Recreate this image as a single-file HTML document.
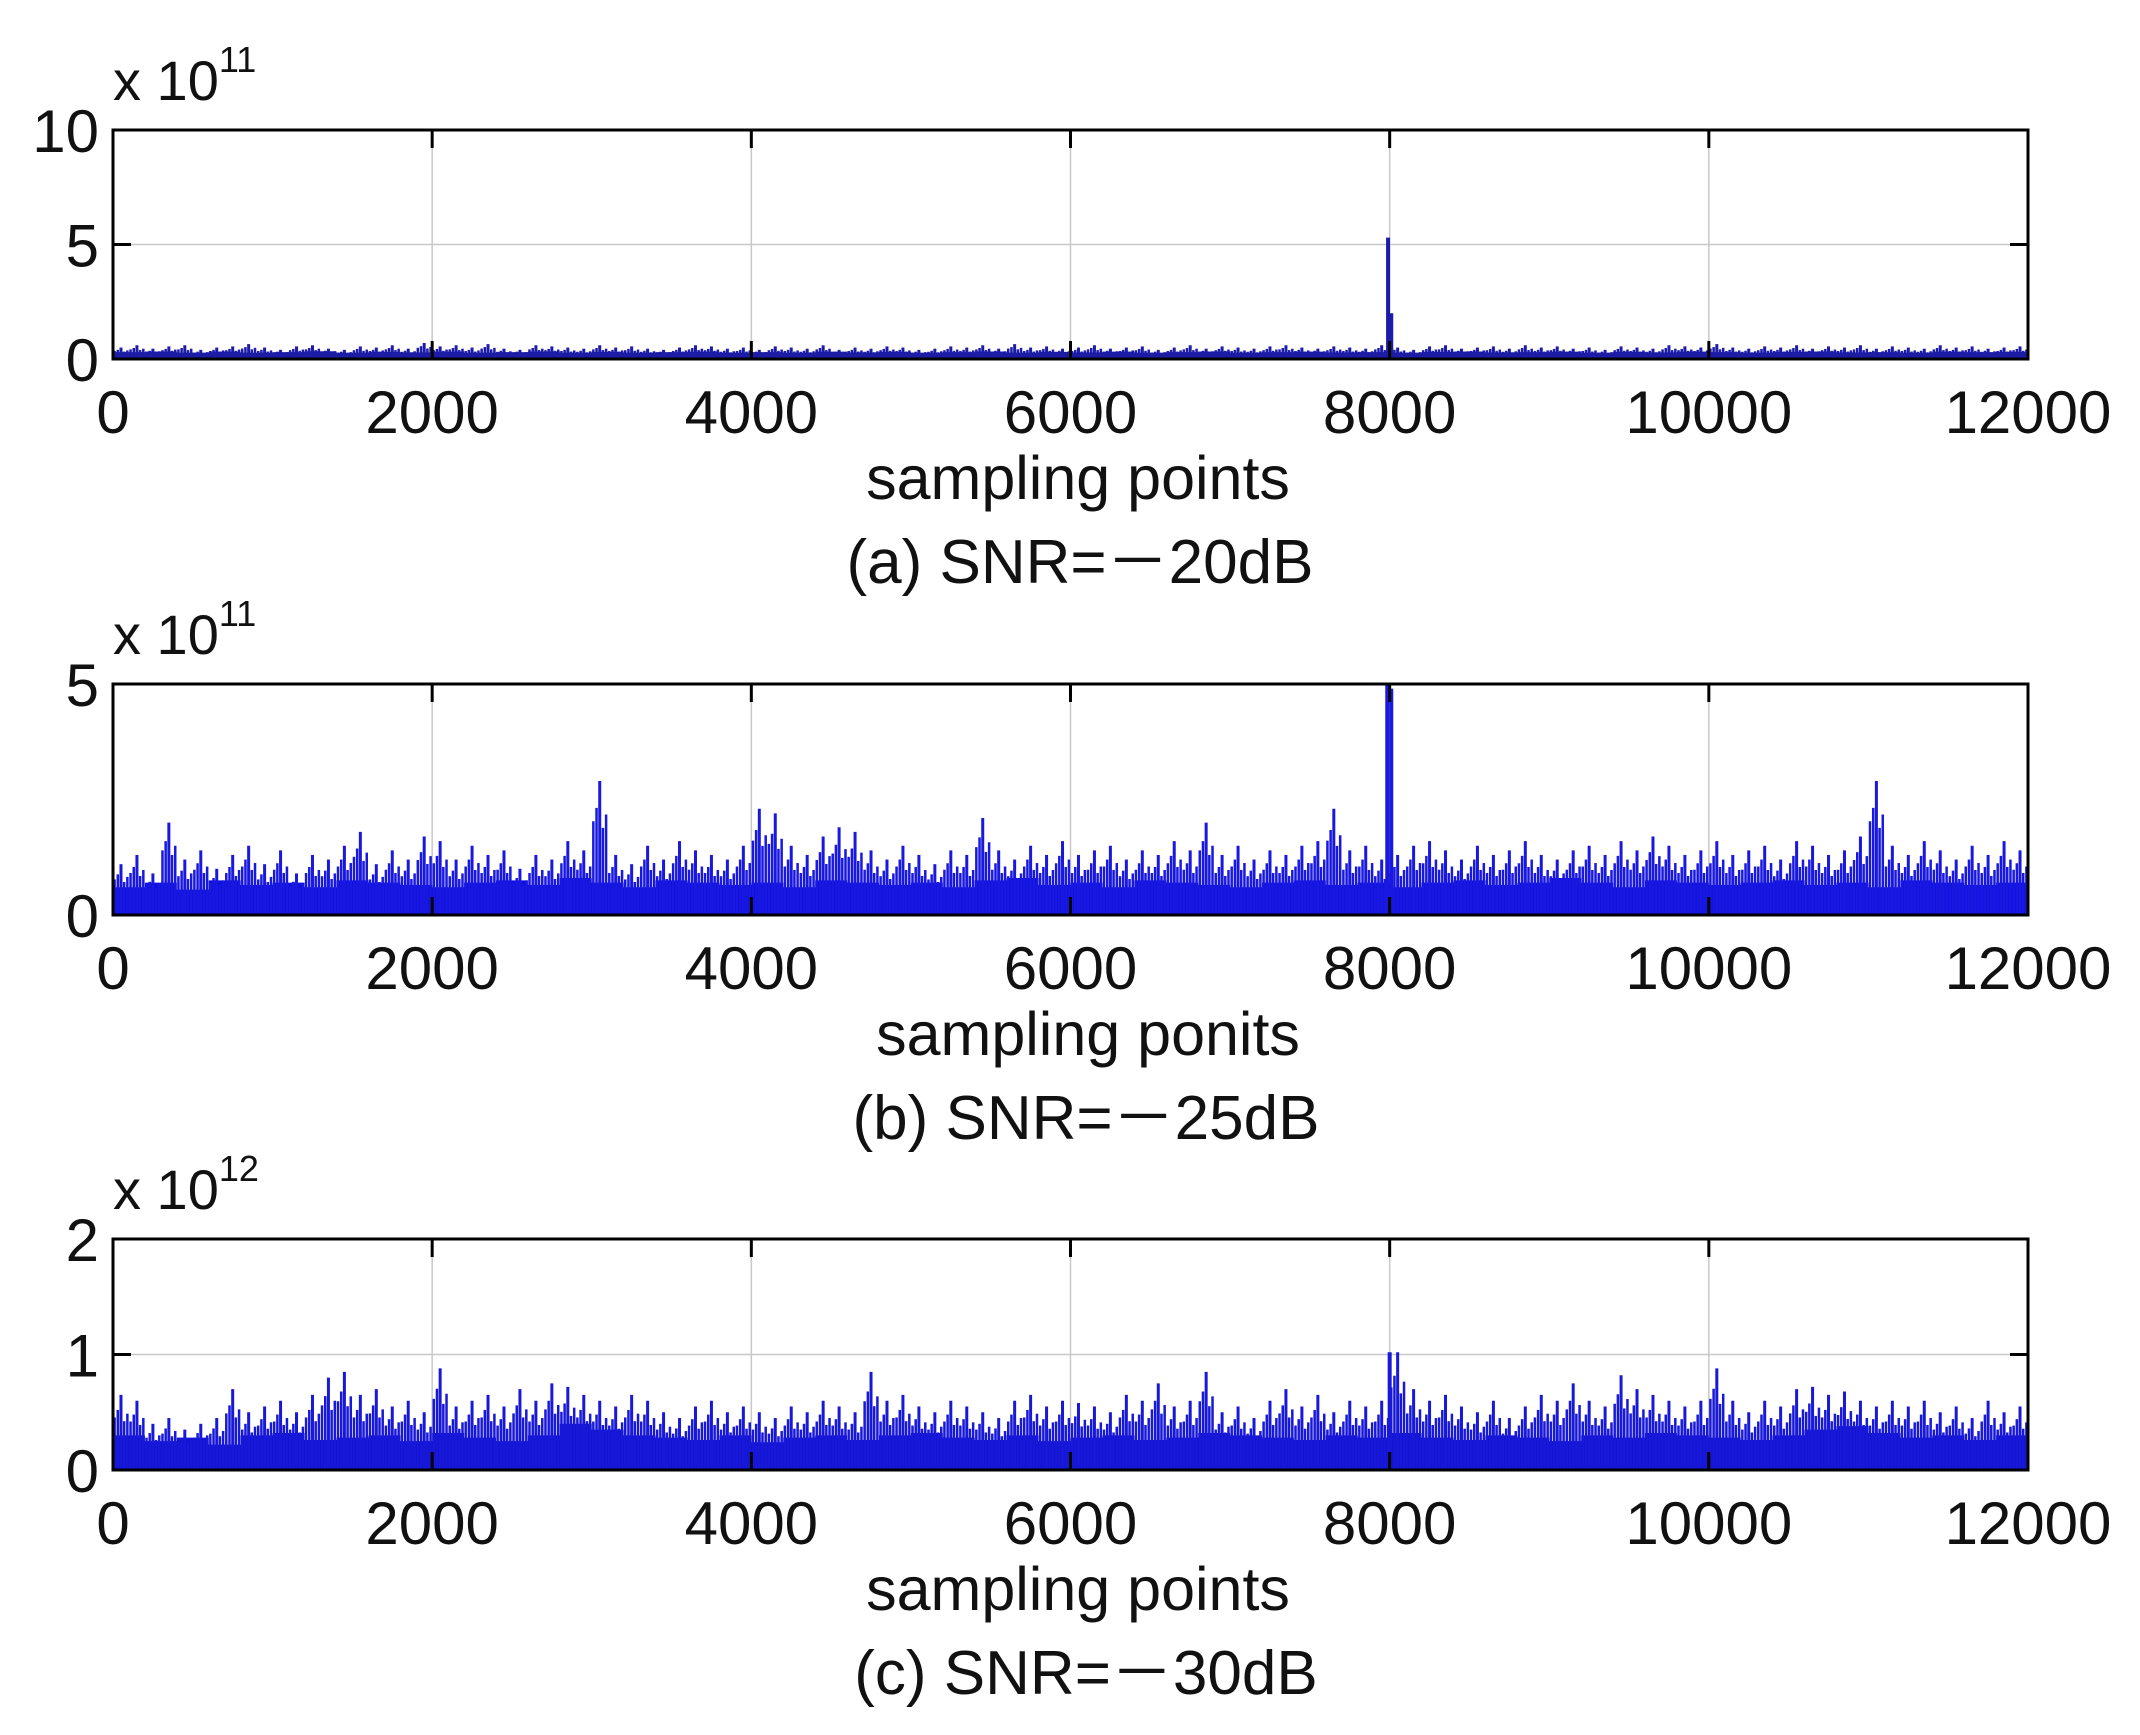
<!DOCTYPE html>
<html><head><meta charset="utf-8">
<style>
html,body{margin:0;padding:0;background:#fff;}
svg{display:block;}
text{font-family:"Liberation Sans",Arial,sans-serif;fill:#111;}
</style></head>
<body>
<svg id="fig" width="2140" height="1735" viewBox="0 0 2140 1735" xmlns="http://www.w3.org/2000/svg"></svg>
<script>
// ---- data (values in units of the panel's axis multiplier) ----
const xTicks = [0, 2000, 4000, 6000, 8000, 10000, 12000];
const xTickLabels = ["0","2000","4000","6000","8000","10000","12000"];

const aYTicks = [0, 5, 10];
const aYTickLabels = ["0","5","10"];
const aPeaks = [
0.5,0.6,0.45,0.55,0.6,0.4,0.5,0.55,0.65,0.5,0.4,0.55,0.6,0.45,0.4,0.55,0.5,0.6,0.45,0.7,
0.55,0.6,0.5,0.65,0.45,0.4,0.6,0.55,0.5,0.45,0.6,0.5,0.55,0.45,0.4,0.5,0.6,0.55,0.45,0.5,
0.4,0.55,0.5,0.45,0.6,0.4,0.5,0.45,0.55,0.5,0.4,0.45,0.55,0.5,0.6,0.45,0.65,0.5,0.55,0.45,
0.5,0.6,0.45,0.5,0.55,0.4,0.5,0.6,0.45,0.55,0.5,0.45,0.55,0.6,0.5,0.45,0.55,0.5,0.45,0.6,
0.5,0.4,0.55,0.6,0.45,0.5,0.55,0.45,0.6,0.5,0.55,0.45,0.5,0.4,0.55,0.5,0.45,0.6,0.55,0.5,
0.65,0.5,0.45,0.55,0.5,0.6,0.45,0.55,0.5,0.6,0.45,0.55,0.5,0.45,0.6,0.5,0.55,0.45,0.5,0.55];
const aFill = [0.3,0.33,0.28,0.32,0.28,0.3,0.34,0.28,0.31,0.29,0.32,0.28,0.3,0.33,0.28,0.31,0.28,0.3,0.32,0.28,
0.3,0.28,0.32,0.29,0.31,0.28,0.3,0.33,0.28,0.31,0.29,0.32,0.28,0.3,0.33,0.28,0.3,0.32,0.29,0.3,
0.28,0.31,0.33,0.29,0.3,0.32,0.28,0.31,0.29,0.32,0.3,0.28,0.31,0.33,0.29,0.3,0.28,0.32,0.3,0.31];
const aSpikeX = [7990, 8010];
const aSpikeY = [5.3, 2.0];

const bYTicks = [0, 5];
const bYTickLabels = ["0","5"];
const bPeaks = [
1.1,1.3,0.9,2.0,1.2,1.4,1.0,1.3,1.5,1.1,1.4,0.9,1.3,1.2,1.5,1.8,1.1,1.4,1.2,1.7,
1.6,1.2,1.5,1.3,1.4,1.0,1.3,1.2,1.6,1.4,2.9,1.3,1.1,1.5,1.2,1.6,1.4,1.3,1.2,1.5,
2.3,2.2,1.5,1.3,1.7,1.9,1.8,1.4,1.2,1.5,1.3,1.1,1.4,1.3,2.1,1.4,1.2,1.5,1.3,1.6,
1.3,1.4,1.5,1.2,1.4,1.3,1.6,1.4,2.0,1.3,1.5,1.2,1.4,1.3,1.5,1.6,2.3,1.4,1.5,1.2,
1.3,1.5,1.6,1.4,1.2,1.5,1.3,1.4,1.6,1.3,1.2,1.4,1.5,1.3,1.6,1.4,1.7,1.5,1.3,1.4,
1.6,1.3,1.4,1.5,1.2,1.6,1.5,1.3,1.4,1.7,2.9,1.5,1.3,1.6,1.4,1.2,1.5,1.3,1.6,1.4];
const bFill = [0.6,0.7,0.55,0.75,0.65,0.7,0.6,0.75,0.7,0.65,0.6,0.7,0.75,0.65,0.8,0.7,0.6,0.75,0.7,0.65,
0.7,0.6,0.75,0.7,0.65,0.7,0.6,0.75,0.8,0.65,0.7,0.6,0.75,0.7,0.65,0.6,0.7,0.75,0.65,0.7,
0.6,0.7,0.75,0.65,0.7,0.8,0.7,0.6,0.75,0.7,0.65,0.7,0.75,0.65,0.7,0.6,0.75,0.7,0.65,0.7];
const bSpikeX = [7985, 8010];
const bSpikeY = [5.0, 4.9];

const cYTicks = [0, 1, 2];
const cYTickLabels = ["0","1","2"];
const cPeaks = [
0.65,0.6,0.4,0.45,0.35,0.4,0.45,0.7,0.5,0.55,0.6,0.5,0.65,0.8,0.85,0.65,0.7,0.55,0.6,0.5,
0.88,0.55,0.6,0.65,0.55,0.7,0.6,0.75,0.72,0.65,0.6,0.55,0.65,0.6,0.5,0.45,0.55,0.6,0.5,0.55,
0.5,0.45,0.55,0.5,0.6,0.55,0.5,0.85,0.6,0.65,0.55,0.5,0.6,0.55,0.5,0.45,0.6,0.65,0.55,0.6,
0.58,0.55,0.5,0.65,0.6,0.75,0.55,0.6,0.85,0.5,0.55,0.45,0.6,0.7,0.55,0.65,0.5,0.6,0.55,0.6,
1.02,0.7,0.6,0.65,0.55,0.5,0.6,0.45,0.55,0.65,0.6,0.75,0.6,0.55,0.82,0.7,0.65,0.6,0.55,0.6,
0.88,0.6,0.5,0.6,0.55,0.7,0.72,0.65,0.68,0.6,0.55,0.6,0.55,0.6,0.5,0.55,0.45,0.6,0.5,0.55];
const cFill = [0.3,0.25,0.28,0.22,0.3,0.32,0.26,0.28,0.3,0.25,0.32,0.28,0.25,0.3,0.4,0.35,0.3,0.28,0.26,0.3,
0.24,0.28,0.3,0.26,0.3,0.32,0.28,0.26,0.3,0.25,0.28,0.3,0.26,0.28,0.32,0.3,0.28,0.26,0.3,0.28,
0.32,0.28,0.26,0.3,0.28,0.25,0.3,0.28,0.32,0.3,0.28,0.26,0.3,0.35,0.38,0.32,0.28,0.3,0.26,0.3];
const cSpikeX = [8000];
const cSpikeY = [1.02];

const panels = [
 {id:'a', top:130, bottom:359, yMax:10, yTicks:aYTicks, yLabels:aYTickLabels, peaks:aPeaks, fill:aFill, sx:aSpikeX, sy:aSpikeY,
  exp:'11', xlabel:'sampling points', cap:'(a)  SNR=\uff0d20dB', color:'#1c1ca8', fillColor:'#1e1e9e'},
 {id:'b', top:684, bottom:915, yMax:5, yTicks:bYTicks, yLabels:bYTickLabels, peaks:bPeaks, fill:bFill, sx:bSpikeX, sy:bSpikeY,
  exp:'11', xlabel:'sampling ponits', cap:'(b)  SNR=\uff0d25dB', color:'#1818e0', fillColor:'#1010e0'},
 {id:'c', top:1239, bottom:1470, yMax:2, yTicks:cYTicks, yLabels:cYTickLabels, peaks:cPeaks, fill:cFill, sx:cSpikeX, sy:cSpikeY,
  exp:'12', xlabel:'sampling points', cap:'(c)  SNR=\uff0d30dB', color:'#1818d8', fillColor:'#1212d0'}
];

const L = 113, R = 2028, XMAX = 12000;
const svg = document.getElementById('fig');
const NS = 'http://www.w3.org/2000/svg';
function mk(tag, attrs, parent){ const e=document.createElementNS(NS,tag); for(const k in attrs) e.setAttribute(k,attrs[k]); (parent||svg).appendChild(e); return e; }
function xs(v){ return L + (v/XMAX)*(R-L); }
const subFrac = [0.5, 0.1, 0.3, 0.7, 0.9];
const subScale = [1.0, 0.7, 0.8, 0.65, 0.75];

panels.forEach(p=>{
  const g = mk('g',{});
  
  
  const ys = v => p.bottom - (v/p.yMax)*(p.bottom-p.top);
  xTicks.forEach((t,i)=>{ if(i>0 && i<xTicks.length-1){ const l=mk('line',{x1:xs(t),x2:xs(t),y1:p.top,y2:p.bottom,stroke:'#c8c8c8','stroke-width':1.5},g);
      }});
  p.yTicks.forEach((t,i)=>{ if(i>0 && i<p.yTicks.length-1){ const l=mk('line',{x1:L,x2:R,y1:ys(t),y2:ys(t),stroke:'#c8c8c8','stroke-width':1.5},g);
      }});
  const n = p.fill.length, step = XMAX/n;
  let d = 'M'+xs(0)+','+p.bottom;
  p.fill.forEach((v,i)=>{ d += ' L'+xs(i*step)+','+ys(v)+' L'+xs((i+1)*step)+','+ys(v); });
  d += ' L'+xs(XMAX)+','+p.bottom+' Z';
  const f = mk('path',{d:d,fill:p.fillColor},g);
   
  const m = p.peaks.length, pstep = XMAX/m;
  p.peaks.forEach((v,i)=>{
    subFrac.forEach((fr,k)=>{
      const x = xs(i*pstep + pstep*fr);
      const l = mk('line',{x1:x,x2:x,y1:p.bottom,y2:ys(v*subScale[k]),stroke:p.color,'stroke-width':k===0?3:2.5},g);
       
    });
  });
  p.sx.forEach((sx,i)=>{
    const l = mk('line',{x1:xs(sx),x2:xs(sx),y1:p.bottom,y2:ys(p.sy[i]),stroke:p.color,'stroke-width':4},g);
     
  });
  const box = mk('rect',{x:L,y:p.top,width:R-L,height:p.bottom-p.top,fill:'none',stroke:'#000','stroke-width':3},g);
   
  xTicks.forEach((t,i)=>{
    const x = xs(t);
    const a=mk('line',{x1:x,x2:x,y1:p.top,y2:p.top+18,stroke:'#000','stroke-width':3},g);
     
    const b=mk('line',{x1:x,x2:x,y1:p.bottom,y2:p.bottom-18,stroke:'#000','stroke-width':3},g);
     
    const tx = mk('text',{x:x,y:p.bottom+74,'font-size':60,'text-anchor':'middle'},g);
    tx.textContent = xTickLabels[i];
     
  });
  p.yTicks.forEach((t,i)=>{
    const y = ys(t);
    const a=mk('line',{x1:L,x2:L+18,y1:y,y2:y,stroke:'#000','stroke-width':3},g);
     
    const b=mk('line',{x1:R,x2:R-18,y1:y,y2:y,stroke:'#000','stroke-width':3},g);
     
    const tx = mk('text',{x:L-14,y:y+22,'font-size':60,'text-anchor':'end'},g);
    tx.textContent = p.yLabels[i];
     
  });
  const mt = mk('text',{x:L,y:p.top-30,'font-size':56},g);
   
  mt.textContent = 'x 10';
  const sup = mk('tspan',{dy:-28,'font-size':36},mt);
  sup.textContent = p.exp;
  const xl = mk('text',{x:p.id==='b'?1088:1078,y:p.bottom+140,'font-size':61,'text-anchor':'middle'},g);
  xl.textContent = p.xlabel;
   
  const cp = mk('text',{x:p.id==='a'?1080:1086,y:p.bottom+224,'font-size':62,'text-anchor':'middle'},g);
  cp.textContent = p.cap;
   
});
</script>
</body></html>
